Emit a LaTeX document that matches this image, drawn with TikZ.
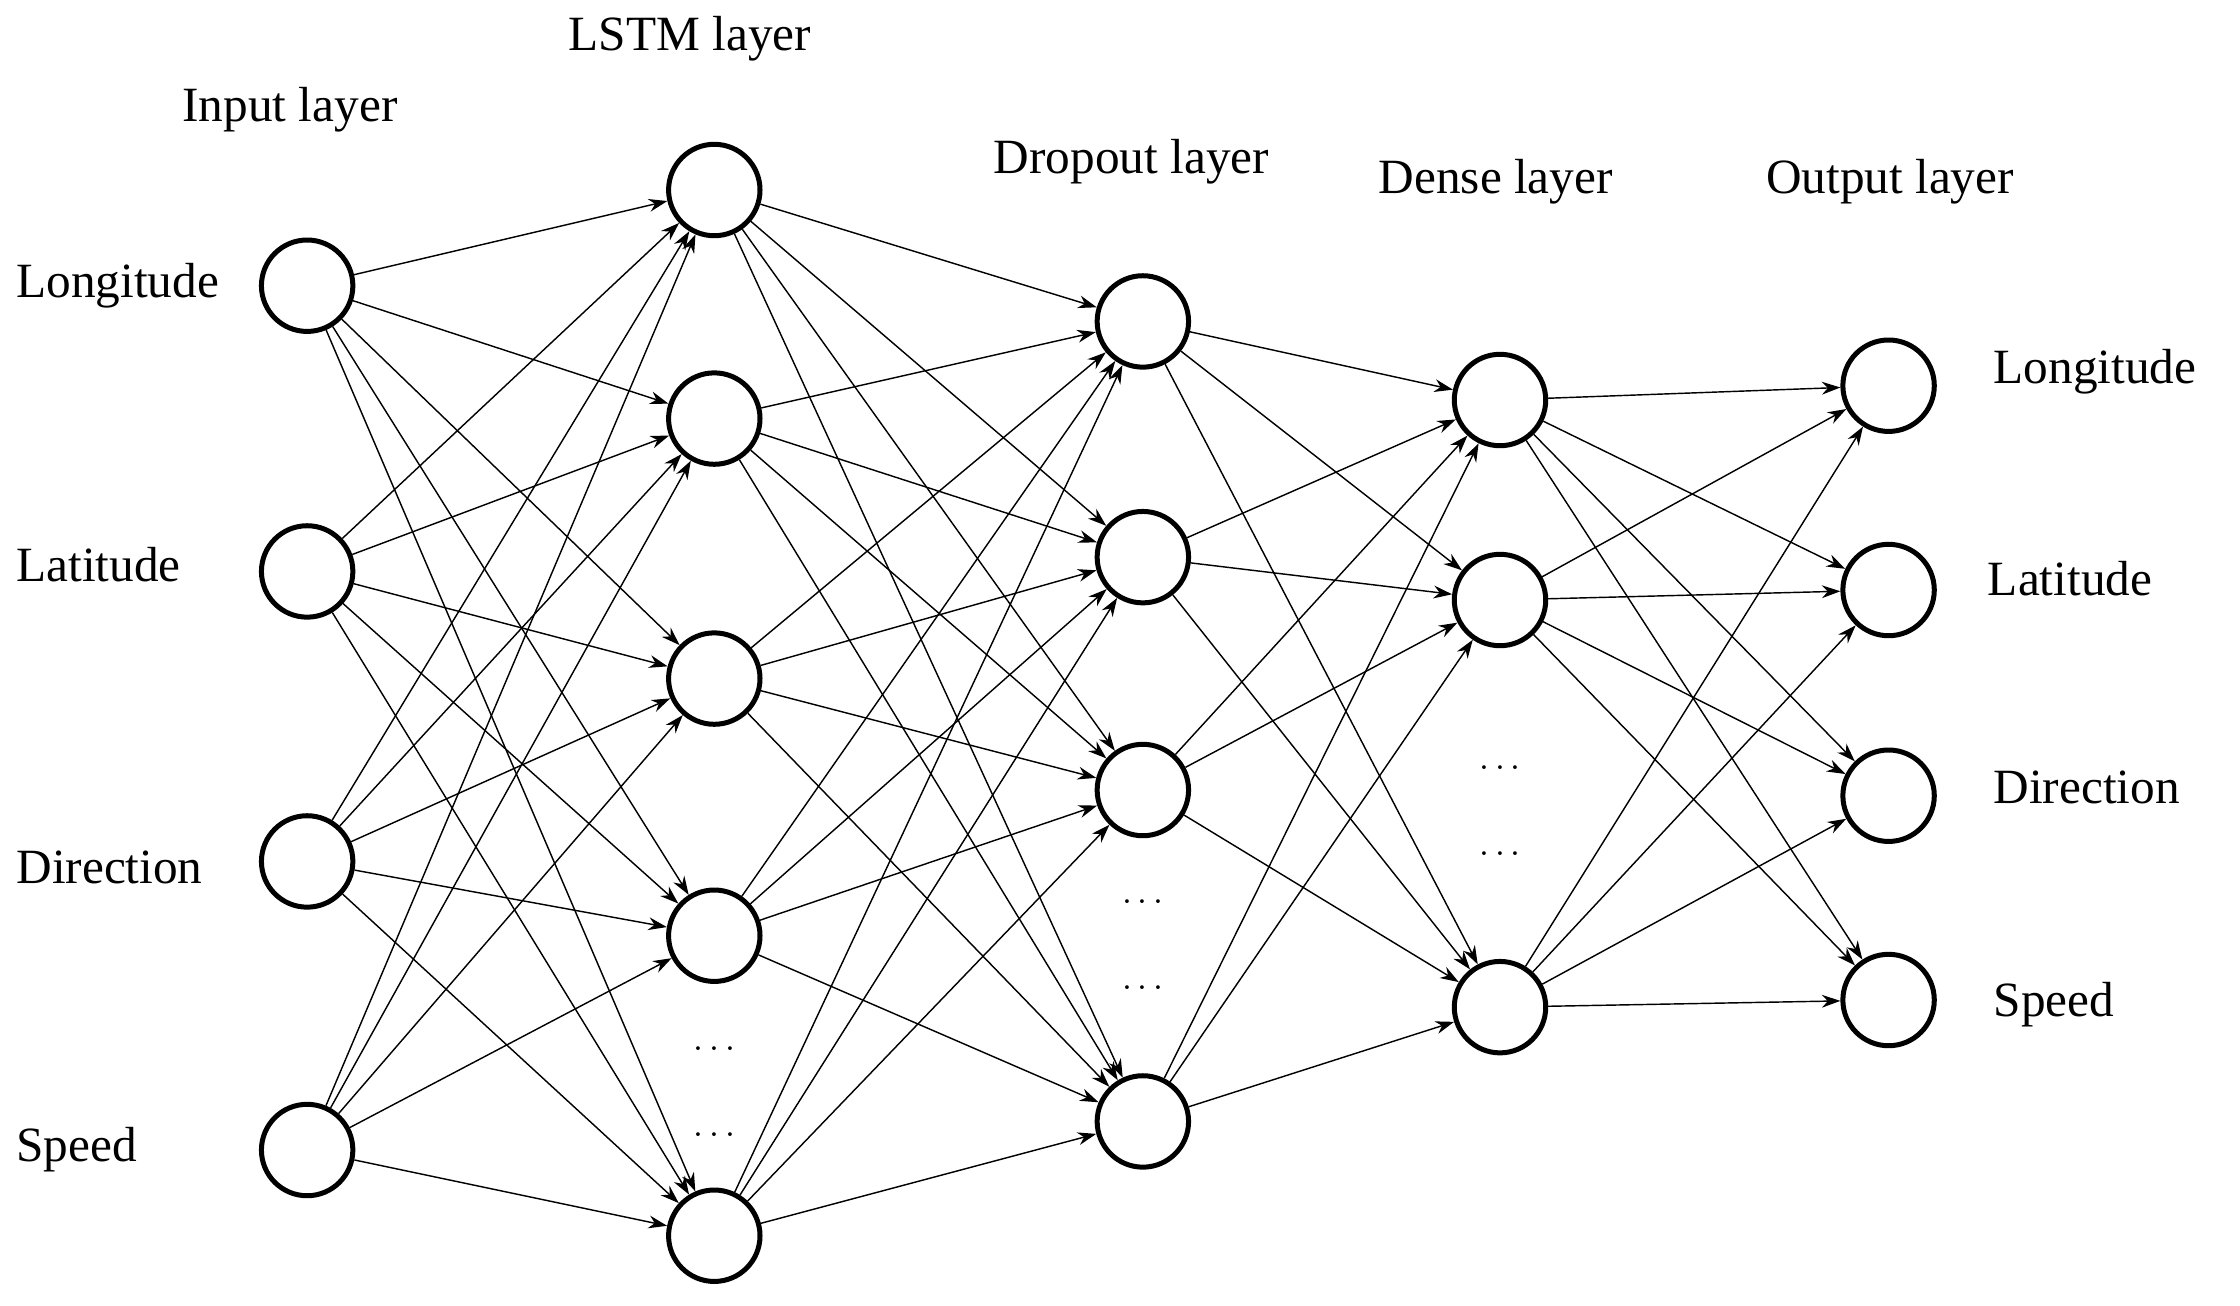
\documentclass[tikz,border=0pt]{standalone}
\usepackage{fontspec}
\setmainfont{Liberation Serif}
\usetikzlibrary{arrows.meta}
\begin{document}
\begin{tikzpicture}[x=1pt,y=-1pt,
  neuron/.style={circle,draw,line width=3.5pt,minimum size=64pt,inner sep=0pt},
  lbl/.style={font=\fontsize{34.5}{40}\selectfont},
  conn/.style={line width=1pt,-{Stealth[length=13pt,width=9pt]}},
  dots/.style={font=\fontsize{34}{36}\selectfont}]
\useasboundingbox (0,0) rectangle (1568,914);
\foreach \y [count=\i] in {200,400,603,805} \node[neuron] (a\i) at (215,\y) {};
\foreach \y [count=\i] in {133,293,475,655,865} \node[neuron] (b\i) at (500,\y) {};
\foreach \y [count=\i] in {225,390,553,785} \node[neuron] (c\i) at (800,\y) {};
\foreach \y [count=\i] in {280,420,705} \node[neuron] (d\i) at (1050,\y) {};
\foreach \y [count=\i] in {270,413,557,700} \node[neuron] (e\i) at (1322,\y) {};
\node[dots] (p1) at (500,735) {$\cdots$};
\node[dots] (p2) at (500,795) {$\cdots$};
\node[dots] (p3) at (800,632) {$\cdots$};
\node[dots] (p4) at (800,692) {$\cdots$};
\node[dots] (p5) at (1050,538) {$\cdots$};
\node[dots] (p6) at (1050,598) {$\cdots$};
\foreach \i in {1,...,4}{\foreach \j in {1,...,5}{\draw[conn] (a\i) -- (b\j);}}
\foreach \i in {1,...,5}{\foreach \j in {1,...,4}{\draw[conn] (b\i) -- (c\j);}}
\foreach \i in {1,...,4}{\foreach \j in {1,...,3}{\draw[conn] (c\i) -- (d\j);}}
\foreach \i in {1,...,3}{\foreach \j in {1,...,4}{\draw[conn] (d\i) -- (e\j);}}
\node[lbl] (t1) at (203,77) {Input layer};
\node[lbl] (t2) at (483,27) {LSTM layer};
\node[lbl] (t3) at (792,113) {Dropout layer};
\node[lbl] (t4) at (1047,127) {Dense layer};
\node[lbl] (t5) at (1323,127) {Output layer};
\node[lbl,anchor=west] (l1) at (8,200) {Longitude};
\node[lbl,anchor=west] (l2) at (8,395) {Latitude};
\node[lbl,anchor=west] (l3) at (8,607) {Direction};
\node[lbl,anchor=west] (l4) at (8,805) {Speed};
\node[lbl,anchor=west] (r1) at (1392,260) {Longitude};
\node[lbl,anchor=west] (r2) at (1388,405) {Latitude};
\node[lbl,anchor=west] (r3) at (1392,551) {Direction};
\node[lbl,anchor=west] (r4) at (1392,703) {Speed};
\end{tikzpicture}
\end{document}
